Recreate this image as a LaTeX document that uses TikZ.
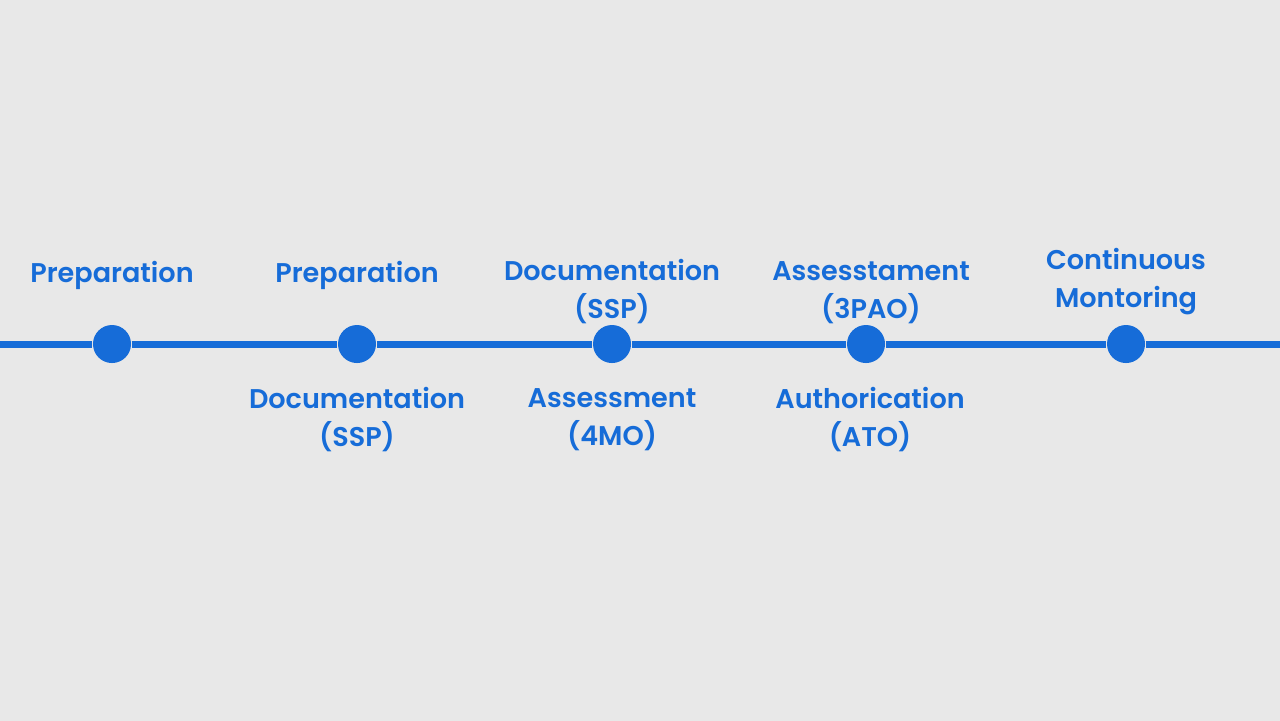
\documentclass[tikz,border=0pt]{standalone}
\usepackage{fontspec}
\setmainfont{Poppins}[BoldFont={Poppins SemiBold}]
\usetikzlibrary{positioning}
\definecolor{stepblue}{RGB}{22,108,216}
\definecolor{bggray}{RGB}{232,232,232}

\begin{document}
\begin{tikzpicture}[
    x=0.01cm, y=-0.01cm,
    dot/.style={circle, fill=stepblue, minimum size=0.38cm, inner sep=0pt},
    steplabel/.style={text=stepblue, inner sep=0pt, align=center,
        font=\bfseries\fontsize{7.7}{10.8}\selectfont},
    line/.style={draw=stepblue, line width=0.07cm}
]
    % background
    \useasboundingbox (0,0) rectangle (1280,720);
    \fill[bggray] (-10,-10) rectangle (1290,730);

    % milestones on the time line
    \node[dot] (d1) at (112,344) {};
    \node[dot] (d2) at (357,344) {};
    \node[dot] (d3) at (612,344) {};
    \node[dot] (d4) at (866,344) {};
    \node[dot] (d5) at (1126,344) {};
    \coordinate (lstart) at (-10,344);
    \coordinate (lend) at (1290,344);

    % labels above
    \node[steplabel, above=0.34cm of d1] (t1) {Preparation};
    \node[steplabel, above=0.34cm of d2] (t2) {Preparation};
    \node[steplabel, above=0cm of d3] (t3) {Documentation\\(SSP)};
    \node[steplabel, above=0cm of d4, xshift=0.05cm] (t4) {Assesstament\\(3PAO)};
    \node[steplabel, above=0.09cm of d5] (t5) {Continuous\\Montoring};

    % labels below
    \node[steplabel, below=0.23cm of d2] (b2) {Documentation\\(SSP)};
    \node[steplabel, below=0.24cm of d3] (b3) {Assessment\\(4MO)};
    \node[steplabel, below=0.23cm of d4, xshift=0.04cm] (b4) {Authorication\\(ATO)};

    % time line
    \draw[line] (lstart) -- (d1) -- (d2) -- (d3) -- (d4) -- (d5) -- (lend);
\end{tikzpicture}
\end{document}
